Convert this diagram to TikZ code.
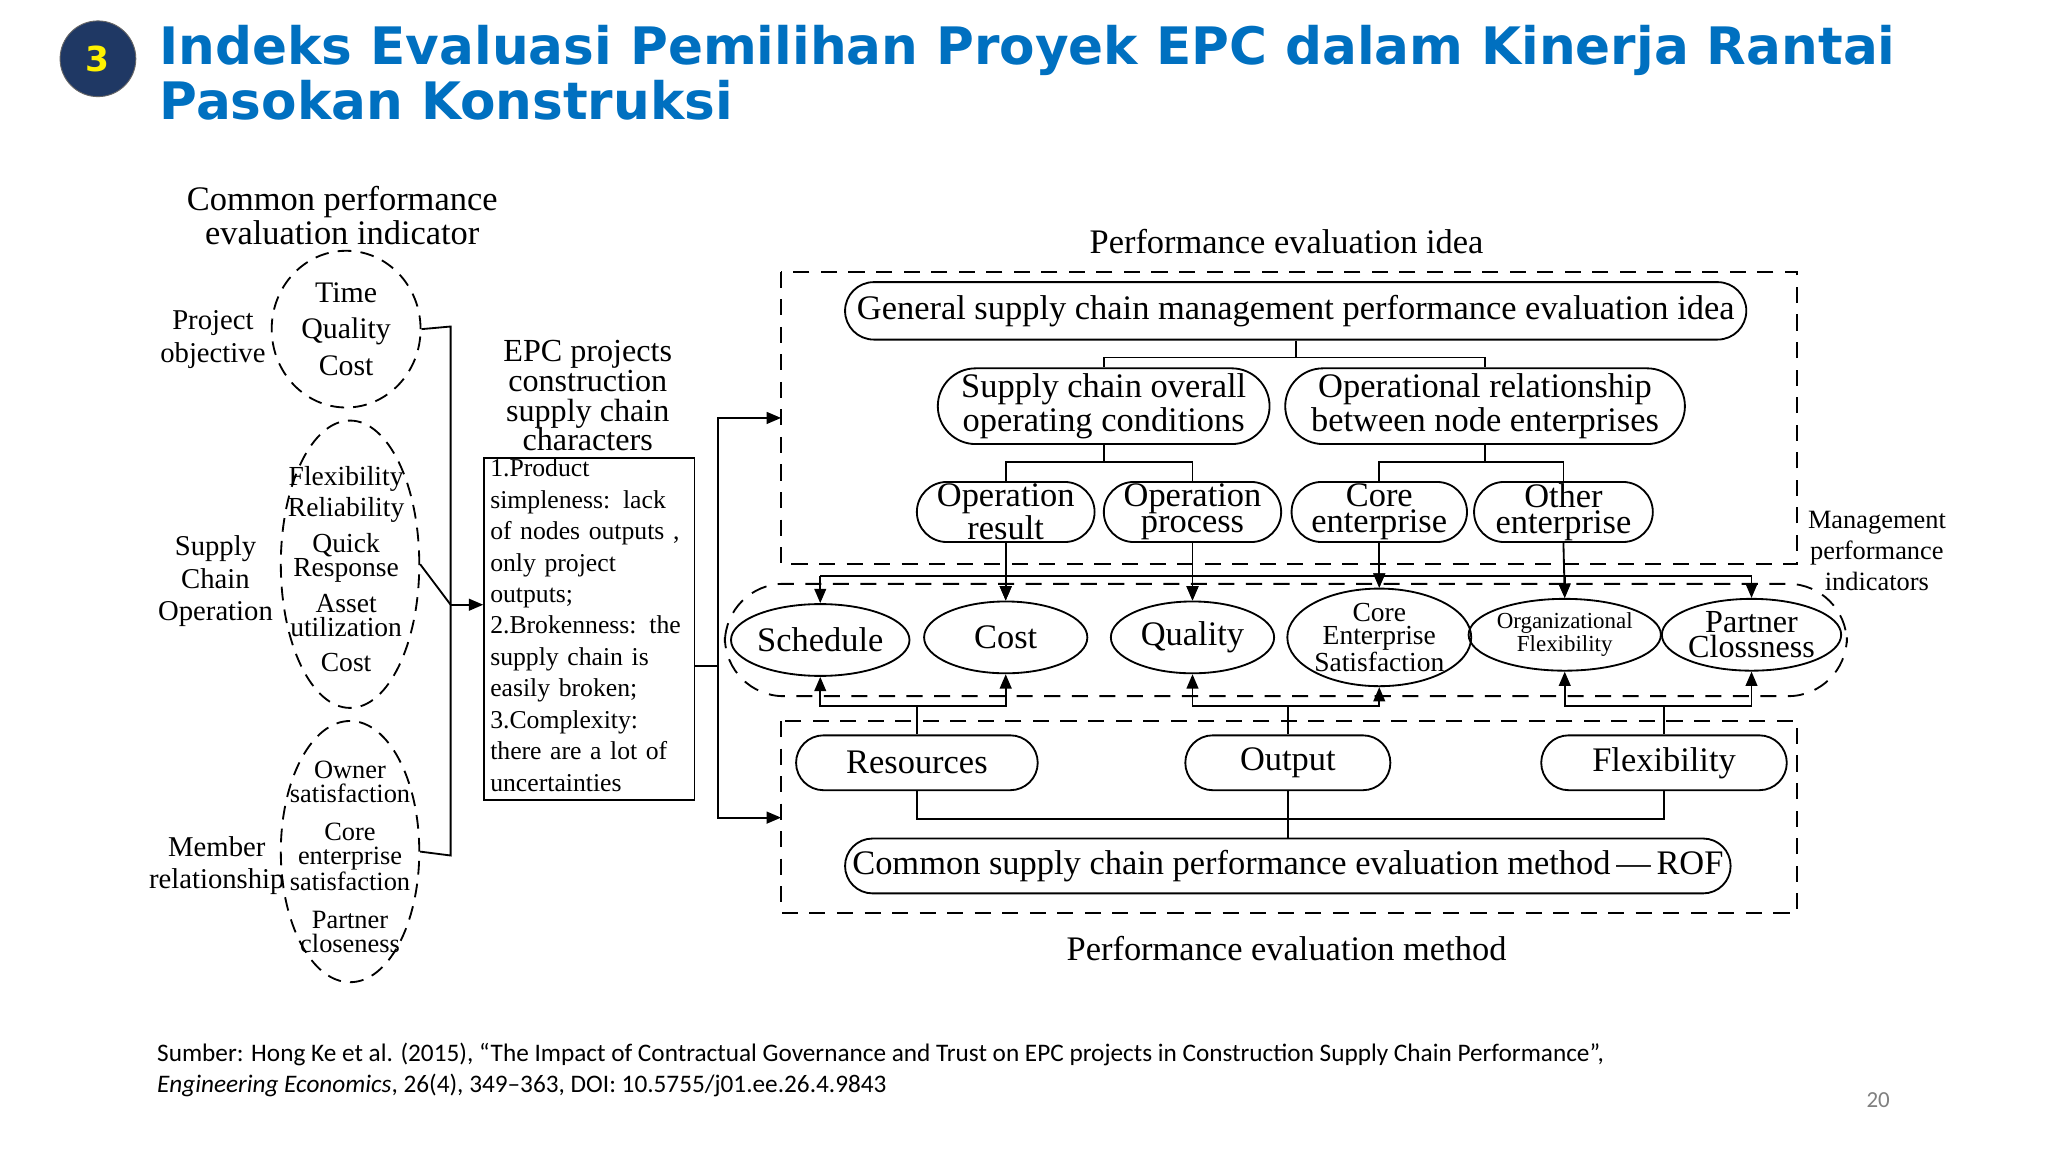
\documentclass[tikz,border=0pt]{standalone}
\usepackage{fontspec}
\setmainfont{Liberation Serif}
\newfontfamily\titlefont{DejaVu Sans}
\newfontfamily\notefont{Carlito}
\usetikzlibrary{shapes.misc,shapes.geometric,arrows.meta,positioning}
\definecolor{titleblue}{RGB}{0,112,192}
\definecolor{badge}{RGB}{31,56,100}
\tikzstyle{pill} = [rounded rectangle, draw, thick, inner sep=0pt, align=center, font=\fontsize{15}{14}\selectfont]
\tikzstyle{oval} = [ellipse, draw, thick, inner sep=0pt, minimum width=25mm, minimum height=11mm, align=center, font=\fontsize{15}{14}\selectfont]
\tikzstyle{group} = [ellipse, draw, thick, dash pattern=on 6pt off 4pt, inner sep=0pt]
\tikzstyle{frame} = [draw, thick, dash pattern=on 7pt off 5pt]
\tikzstyle{small} = [font=\fontsize{11.5}{13.5}\selectfont, align=center]
\tikzstyle{link} = [thick]
\tikzstyle{arr} = [thick, -{Triangle[length=2.2mm,width=1.8mm]}]

\begin{document}
\begin{tikzpicture}[x=0.2mm, y=-0.2mm, every node/.style={font=\fontsize{15}{15}\selectfont}]
   \useasboundingbox[fill=white] (0,0) rectangle (1568,882);
   % Title
   \node [circle, fill=badge, draw=black!60, minimum size=11.6mm, inner sep=0] (badge) at (75,45) {\titlefont\bfseries\fontsize{15}{15}\selectfont\color{yellow}3};
   \node [anchor=north west, align=left, text=titleblue, font=\titlefont\bfseries\fontsize{22.5}{24}\selectfont] (title) at (116,13) {Indeks Evaluasi Pemilihan Proyek EPC dalam Kinerja Rantai\\Pasokan Konstruksi};

   % Left indicators
   \node [align=center, font=\fontsize{15}{13}\selectfont] (common) at (262,165) {Common performance\\evaluation indicator};
   \node [group, minimum width=22.8mm, minimum height=24mm] (g1) at (265,252) {};
   \node [group, minimum width=21.2mm, minimum height=44mm] (g2) at (268,432) {};
   \node [group, minimum width=21.2mm, minimum height=40mm] (g3) at (268,652) {};
   \node [small, font=\fontsize{13}{16}\selectfont] (g1t) at (265,252) {Time\\Quality\\Cost};
   \node [small, font=\fontsize{12}{13.5}\selectfont] (g2t) at (265,436) {Flexibility\\Reliability\\[2pt]Quick\\[-3pt]Response\\[2pt]Asset\\[-3pt]utilization\\[2pt]Cost};
   \node [small, font=\fontsize{11.5}{10.5}\selectfont] (g3t) at (268,656) {Owner\\satisfaction\\[6pt]Core\\enterprise\\satisfaction\\[6pt]Partner\\closeness};
   \node [small, font=\fontsize{12.5}{14}\selectfont] (lab1) at (163,260) {Project\\objective};
   \node [small, font=\fontsize{12.5}{14}\selectfont] (lab2) at (165,445) {Supply\\Chain\\Operation};
   \node [small, font=\fontsize{12.5}{14}\selectfont] (lab3) at (166,663) {Member\\relationship};

   % EPC characters
   \node [align=center, font=\fontsize{14}{13}\selectfont] (epc) at (450,303) {EPC projects\\construction\\supply chain\\characters};
   \node [draw, thick, minimum width=32.2mm, minimum height=52.4mm, inner sep=0, anchor=north west] (box) at (370,350) {};
   \node [anchor=north west, align=left, font=\fontsize{11.2}{13.7}\selectfont, text width=31mm, inner sep=0] (list) at (375,351) {1.Product\\simpleness: lack\\of nodes outputs ,\\only project\\outputs;\\2.Brokenness: the\\supply chain is\\easily broken;\\3.Complexity:\\there are a lot of\\uncertainties};
   \coordinate (b1) at (345,250);
   \coordinate (b2) at (345,655);
   \coordinate (b3) at (345,463);
   \draw [link] (g1.east) -- (b1) -- (b2) -- (g3.east);
   \draw [link] (g2.east) -- (b3);
   \draw [arr] (b3) -- (box.west |- b3);
   \coordinate (c0) at (550,510);
   \coordinate (c1) at (550,320);
   \coordinate (c2) at (550,626);
   \draw [link] (box.east |- c0) -- (c0);
   \draw [arr] (c0) -- (c1) -- (598,320);
   \draw [arr] (c0) -- (c2) -- (598,626);

   % Idea frame
   \draw [frame] (598,208) rectangle (1376,432);
   \node (idea) at (985,185) {Performance evaluation idea};
   \node [pill, minimum width=138mm, minimum height=8.8mm] (general) at (992,238) {General supply chain management performance evaluation idea};
   \node [pill, minimum width=50.8mm, minimum height=11.6mm, font=\fontsize{15}{12}\selectfont] (overall) at (845,311) {Supply chain overall\\operating conditions};
   \node [pill, minimum width=61.2mm, minimum height=11.6mm, font=\fontsize{15}{12}\selectfont] (relation) at (1137,311) {Operational relationship\\between node enterprises};
   \node [pill, minimum width=24mm, minimum height=9.2mm, font=\fontsize{15}{11.5}\selectfont] (result) at (770,392) {Operation\\result};
   \node [pill, minimum width=24mm, minimum height=9.2mm, font=\fontsize{15}{11.5}\selectfont] (process) at (913,392) {Operation\\process};
   \node [pill, minimum width=24mm, minimum height=9.2mm, font=\fontsize{15}{11.5}\selectfont] (core) at (1056,392) {Core\\enterprise};
   \node [pill, minimum width=24mm, minimum height=9.2mm, font=\fontsize{15}{11.5}\selectfont] (other) at (1197,392) {Other\\enterprise};
   \draw [link] (general.south) -- ++(0,13) -| (overall.north);
   \draw [link] (general.south) -- ++(0,13) -| (relation.north);
   \draw [link] (overall.south) -- ++(0,13) -| (result.north);
   \draw [link] (overall.south) -- ++(0,13) -| (process.north);
   \draw [link] (relation.south) -- ++(0,13) -| (core.north);
   \draw [link] (relation.south) -- ++(0,13) -| (other.north);

   % Management indicators
   \draw [frame, rounded corners=9mm] (555,447) rectangle (1414,533);
   \node [small, font=\fontsize{11.5}{13.5}\selectfont] (mgmt) at (1437,422) {Management\\performance\\indicators};
   \node [oval] (schedule) at (628,490) {Schedule};
   \node [oval] (cost) at (770,488) {Cost};
   \node [oval] (quality) at (913,488) {Quality};
   \node [oval, font=\fontsize{12}{10}\selectfont] (satis) at (1056,488) {Core\\Enterprise\\Satisfaction};
   \node [oval, font=\fontsize{10}{8}\selectfont] (orgflex) at (1198,486) {Organizational\\Flexibility};
   \node [oval, font=\fontsize{14}{11}\selectfont] (partner) at (1341,486) {Partner\\Clossness};
   \coordinate (bus) at (628,441);
   \draw [link] (bus) -- (1341,441);
   \foreach \n/\m in {result/cost, process/quality, core/satis, other/orgflex}
      \draw [arr] (\n.south) -- (\m.north);
   \foreach \m in {schedule, cost, quality, satis, orgflex, partner}
      \draw [arr] (\m.north |- bus) -- (\m.north);

   % Method frame
   \draw [frame] (598,552) rectangle (1376,699);
   \node (method) at (985,726) {Performance evaluation method};
   \node [pill, minimum width=37mm, minimum height=8.4mm] (resources) at (702,584) {Resources};
   \node [pill, minimum width=31.4mm, minimum height=8.4mm] (output) at (986,584) {Output};
   \node [pill, minimum width=37.6mm, minimum height=8.4mm] (flex) at (1274,584) {Flexibility};
   \node [pill, minimum width=135.6mm, minimum height=8.4mm] (rof) at (986,663) {Common supply chain performance evaluation method\,---\,ROF};
   \foreach \s/\a/\b in {resources/schedule/cost, output/quality/satis, flex/orgflex/partner} {
      \draw [link] (\s.north) -- ++(0,-22) coordinate (j);
      \draw [arr] (j) -| (\a.south);
      \draw [arr] (j) -| (\b.south);
   }
   \draw [link] (resources.south) |- (rof.north |- 0,627) -| (flex.south);
   \draw [link] (output.south) -- (rof.north);

   % Source
   \node [anchor=north west, align=left, font=\notefont\fontsize{11}{13.7}\selectfont, inner sep=0] (src) at (120,798) {Sumber: Hong Ke et al. (2015), “The Impact of Contractual Governance and Trust on EPC projects in Construction Supply Chain Performance”,\\\textit{Engineering Economics}, 26(4), 349–363, DOI: 10.5755/j01.ee.26.4.9843};
   \node [font=\notefont\fontsize{10}{12}\selectfont, text=gray] (page) at (1438,842) {20};
\end{tikzpicture}
\end{document}
